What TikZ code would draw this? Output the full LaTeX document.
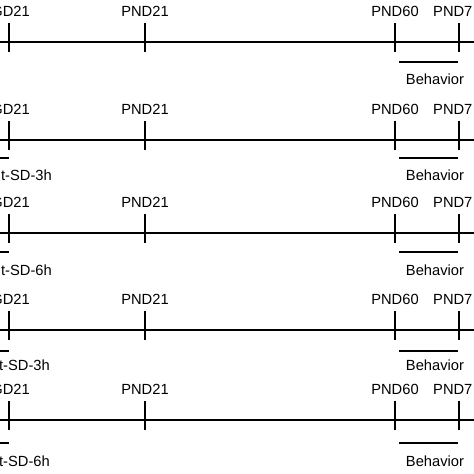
\documentclass[tikz,border=0pt]{standalone}
\usepackage{fontspec}
\setmainfont{Liberation Sans}
\usetikzlibrary{positioning}

\tikzset{
  axis/.style={line width=1.7pt},
  tickmark/.style={line width=1.7pt},
  period/.style={line width=1.2pt},
  tag/.style={inner sep=0pt, font=\fontsize{14.7}{16}\selectfont}
}

\begin{document}
\begin{tikzpicture}[x=1pt, y=-1pt]
    \useasboundingbox (0,0) rectangle (474,474);
    \clip (0,0) rectangle (474,474);
    % one timeline per group: row / line height / underline offset / text offset / left text / its right edge
    \foreach \r/\y/\u/\b/\sd/\se in {1/42/20/37/{}/52, 2/140/18/35/{t-SD-3h}/52, 3/233/19/37/{t-SD-6h}/52, 4/330/21/35/{t-SD-3h}/50, 5/420/23/41/{t-SD-6h}/50} {
        \coordinate (s\r) at (-5,\y);
        \coordinate (e\r) at (480,\y);
        \draw[axis] (s\r) -- (e\r);
        \foreach \t/\x in {gd/8.7, pa/145, pb/395, pc/459} {
            \coordinate (\t\r) at (\x,\y);
            \draw[tickmark] ([yshift=19pt]\t\r) -- ([yshift=-10pt]\t\r);
        }
        \node[tag, anchor=east] (lgd\r) at (30,\y-31) {GD21};
        \node[tag] (lpa\r) at ([yshift=31pt]pa\r) {PND21};
        \node[tag] (lpb\r) at ([yshift=31pt]pb\r) {PND60};
        \node[tag, anchor=west] (lpc\r) at (433,\y-31) {PND7};
        % behaviour tests
        \coordinate (ba\r) at ([xshift=4pt, yshift=-\u pt]pb\r);
        \coordinate (bb\r) at ([xshift=-1pt, yshift=-\u pt]pc\r);
        \draw[period] (ba\r) -- (bb\r);
        \node[tag] (beh\r) at (435,\y+\b) {Behavior};
        % sleep deprivation
        \ifnum\r>1
            \coordinate (sa\r) at ([xshift=-10pt, yshift=-\u pt]gd\r);
            \coordinate (sb\r) at ([yshift=-\u pt]gd\r);
            \draw[period] (sa\r) -- (sb\r);
            \node[tag, anchor=east] (sd\r) at (\se,\y+\b) {\sd};
        \fi
    }
\end{tikzpicture}
\end{document}
